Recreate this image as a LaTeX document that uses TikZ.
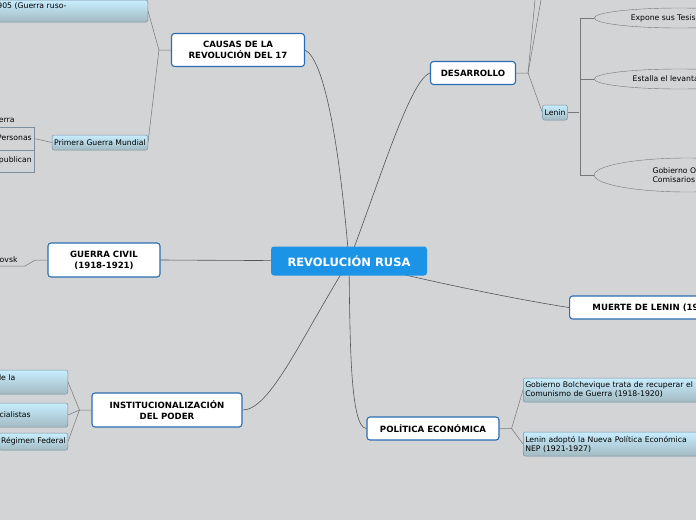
\documentclass[tikz,border=0pt]{standalone}
\usepackage{fontspec}
\setmainfont{DejaVu Sans}
\usetikzlibrary{backgrounds,shapes.geometric}
\definecolor{bg}{HTML}{D3D4D6}
\definecolor{mainb}{HTML}{2B6DB3}
\definecolor{rootc}{HTML}{1B93E6}
\definecolor{leafb}{HTML}{7D8E9C}
\definecolor{edgec}{HTML}{555555}
\begin{document}
\begin{tikzpicture}[x=1pt,y=-1pt,
 mainbox/.style={draw=mainb,line width=1.1pt,fill=white,rounded corners=3pt,font=\bfseries\fontsize{8.6}{11}\selectfont,align=center,inner sep=0pt},
 lf/.style={font=\fontsize{7.7}{9}\selectfont},
 leaf/.style={lf,draw=leafb,line width=0.5pt,rounded corners=2pt,top color=blue!8!white!85!cyan,bottom color=blue!25!cyan!20!gray!60,align=left,inner sep=2pt},
 leafr/.style={leaf,anchor=east},
 oval/.style={lf,ellipse,draw=edgec!80,line width=0.4pt,align=center,inner sep=1pt},
 conn/.style={draw=edgec,line width=0.6pt},
 thin/.style={draw=edgec!80,line width=0.5pt}]
\useasboundingbox (0,0) rectangle (696,520);
\node[fill=rootc,rounded corners=3pt,text=white,font=\bfseries\fontsize{11.5}{13}\selectfont,minimum width=156pt,minimum height=29pt,inner sep=0pt] (root) at (349,261) {REVOLUCIÓN RUSA};
\node[mainbox,minimum width=133pt,minimum height=33pt] (causas) at (238,50) {CAUSAS DE LA\\REVOLUCIÓN DEL 17};
\node[mainbox,minimum width=112pt,minimum height=34pt] (civil) at (104,260) {GUERRA CIVIL\\(1918-1921)};
\node[mainbox,minimum width=150pt,minimum height=34pt] (inst) at (167,410) {INSTITUCIONALIZACIÓN\\DEL PODER};
\node[mainbox,minimum width=85pt,minimum height=23pt] (des) at (473,73) {DESARROLLO};
\node[mainbox,minimum width=160pt,minimum height=23pt,anchor=west] (muerte) at (569,307.5) {\hspace*{8pt}MUERTE DE LENIN (1924)};
\node[mainbox,minimum width=132pt,minimum height=23pt] (pol) at (433,428.5) {POLÍTICA ECONÓMICA};
% causas leaves
\node[leafr,minimum height=22pt,text width=210pt] (r1905) at (148,11) {Revolución de 1905 (Guerra ruso-\\japonesa)};
\node[leafr,minimum height=15pt] (pgm) at (148,142.5) {Primera Guerra Mundial};
\node[lf,anchor=east] (g1) at (18,120) {Guerra};
\node[lf,draw=leafb,line width=0.5pt,anchor=east,minimum height=23pt,inner sep=2pt,text width=70pt,align=right] (g2) at (34,138.5) {\strut Personas\hspace*{14pt}};
\node[lf,draw=leafb,line width=0.5pt,anchor=east,minimum height=22pt,inner sep=2pt,align=right,text width=70pt] (g3) at (34,161) {\strut Republican\hspace*{14pt}};
\node[lf,anchor=east] (kov) at (21,260) {Brest-Litovsk};
\coordinate (kovend) at (0,266);
% inst leaves
\node[leafr,minimum height=24pt,text width=120pt] (i1) at (68,382) {Constitución de la\\URSS};
\node[leafr,minimum height=24pt,text width=120pt] (i2) at (68,415) {Repúblicas Socialistas\\ };
\node[leafr,minimum height=17pt] (i3) at (68,441.5) {Régimen Federal};
% desarrollo
\node[leaf,minimum height=15pt] (lenin) at (555,112.5) {Lenin};
\coordinate (up1) at (535,0);
\coordinate (up2) at (541,0);
\node[oval,minimum width=170pt,minimum height=20pt,anchor=west] (e1) at (594,18) {Expone sus Tesis de Abril};
\node[oval,minimum width=170pt,minimum height=20pt,anchor=west] (e2) at (594,79) {Estalla el levantamiento};
\node[oval,minimum width=170pt,minimum height=34pt,anchor=west,text width=130pt,align=left] (e3) at (594,175) {\hspace*{30pt}Gobierno Obrero y\\\hspace*{30pt}Comisarios del Pueblo};
% pol leaves
\node[leaf,anchor=west,minimum height=24pt,text width=220pt] (p1) at (523,390) {Gobierno Bolchevique trata de recuperar el\\Comunismo de Guerra (1918-1920)};
\node[leaf,anchor=west,minimum height=24pt,text width=220pt] (p2) at (523,444) {Lenin adoptó la Nueva Política Económica\\NEP (1921-1927)};
\begin{scope}[on background layer]
\fill[bg] (0,0) rectangle (696,520);
\draw[conn] (root.center) .. controls (340,150) and (325,60) .. (causas.east);
\draw[conn] (root.center) -- (civil.east);
\draw[conn] (root.center) .. controls (300,340) and (270,410) .. (inst.east);
\draw[conn] (root.center) .. controls (380,180) and (410,80) .. (des.west);
\draw[conn] (root.center) .. controls (420,280) and (520,300) .. (muerte.west);
\draw[conn] (root.center) .. controls (350,340) and (350,428) .. (pol.west);
\draw[thin] (causas.west) -- ++(-12,0) coordinate (cj) -- (r1905.east);
\draw[thin] (cj) -- (pgm.east);
\draw[thin] (pgm.west) -- (g2.east);
\draw[thin] (civil.west) -- ++(-12,0) -- (25,266) -- (kovend);
\draw[thin] (inst.west) -- ++(-12,0) coordinate (ij) -- (i1.east);
\draw[thin] (ij) -- (i2.east);
\draw[thin] (ij) -- (i3.east);
\draw[thin] (des.east) -- ++(12,0) coordinate (dj) -- (up1);
\draw[thin] (dj) -- (up2);
\draw[thin] (dj) -- (lenin.west);
\draw[thin] (lenin.east) -- ++(11,0) coordinate (lj);
\draw[thin] (e1.west) -- ++(-14,0) |- (e3.west);
\draw[thin] (e2.west) -- ++(-14,0);
\draw[thin] (pol.east) -- ++(12,0) coordinate (pj2) -- (p1.west);
\draw[thin] (pj2) -- (p2.west);
\end{scope}
\end{tikzpicture}
\end{document}
